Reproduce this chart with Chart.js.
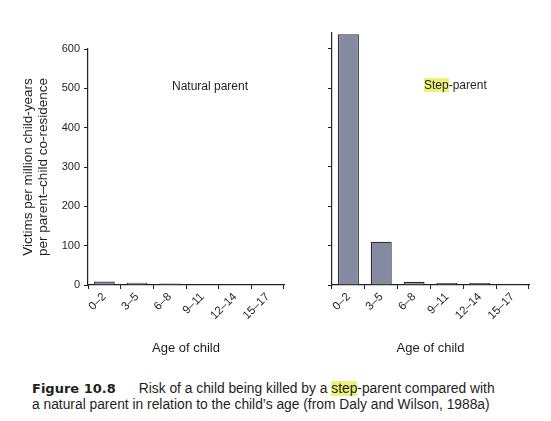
<!DOCTYPE html>
<html>
<head>
<meta charset="utf-8">
<script src="https://cdn.jsdelivr.net/npm/chart.js@4.4.1/dist/chart.umd.min.js"></script>
<style>
  html, body { margin: 0; padding: 0; background: #fff; }
  body { width: 551px; height: 421px; position: relative; overflow: hidden;
         font-family: "Liberation Sans", Arial, sans-serif; color: #1e1e1e; }
  .box { position: absolute; top: 0; height: 365px; }
  #leftBox { left: 0; width: 300px; }
  #rightBox { left: 300px; width: 251px; }
  .panel { position: absolute; font-size: 12px; white-space: nowrap; }
  .hl { background: #eef078; }
  #caption { position: absolute; left: 32px; top: 381px; font-size: 13.8px; line-height: 16px; white-space: nowrap; }
  #caption b { font-family: "DejaVu Sans", sans-serif; font-weight: bold; font-size: 13px; margin-right: 23px; }
</style>
</head>
<body>
<div class="box" id="leftBox"><canvas id="naturalChart"></canvas></div>
<div class="box" id="rightBox"><canvas id="stepChart"></canvas></div>
<div class="panel" style="left:172px; top:79px;">Natural parent</div>
<div class="panel" style="left:424px; top:78px;"><span class="hl">Step</span>-parent</div>
<div id="caption"><b>Figure 10.8</b>Risk of a child being killed by a <span class="hl">step</span>-parent compared with<br>a natural parent in relation to the child’s age (from Daly and Wilson, 1988a)</div>

<script>
// Age groups and rates (victims per million child-years of co-residence)
const ageGroups = ['0–2', '3–5', '6–8', '9–11', '12–14', '15–17'];
const naturalParent = [9, 6, 3.5, 0.6, 0.5, 0.4];
const stepParent = [637, 110, 8, 5, 5, 3];
const yTicks = [0, 100, 200, 300, 400, 500, 600];

const textColor = '#1e1e1e';
const barFill = '#858aa1';
const barEdge = '#2b2d40';
const fontFamily = '"Liberation Sans", Arial';

function makeConfig(values, yMax, showLabels, yWidth, rightPad, topPad) {
    return {
        type: 'bar',
        data: {
            labels: ageGroups,
            datasets: [{
                data: values,
                backgroundColor: barFill,
                borderColor: barEdge,
                borderWidth: 1.3,
                borderSkipped: 'bottom',
                categoryPercentage: 1,
                barPercentage: 0.64
            }]
        },
        options: {
            responsive: false,
            animation: false,
            layout: { padding: { left: 0, top: topPad, right: rightPad, bottom: 0 } },
            plugins: { legend: { display: false }, tooltip: { enabled: false } },
            scales: {
                x: {
                    grid: { display: true, drawOnChartArea: false, tickLength: 4, color: '#222', lineWidth: 1 },
                    border: { display: true, color: '#222', width: 1.2 },
                    ticks: { color: textColor, font: { size: 11.5, family: fontFamily }, minRotation: 45, maxRotation: 45, padding: 1 },
                    title: { display: true, text: 'Age of child', color: textColor, font: { size: 13, family: fontFamily }, padding: { top: 0, bottom: 9 } },
                    afterFit: s => { s.height = 80; }
                },
                y: {
                    min: 0,
                    max: yMax,
                    grid: { display: true, drawOnChartArea: false, tickLength: 4, color: '#222', lineWidth: 1 },
                    border: { display: true, color: '#222', width: 1.2 },
                    afterBuildTicks: s => { s.ticks = yTicks.map(v => ({ value: v })); },
                    ticks: {
                        display: showLabels,
                        color: textColor,
                        padding: 4,
                        font: { size: 11, family: fontFamily }
                    },
                    title: {
                        display: showLabels,
                        text: ['Victims per million child-years', 'per parent–child co-residence'],
                        color: textColor,
                        font: { size: 13.5, family: fontFamily, lineHeight: 1.08 },
                        padding: { top: 21, bottom: 0 }
                    },
                    afterFit: s => { s.width = yWidth; }
                }
            }
        }
    };
}

window.onload = () => {
    const left = document.getElementById('naturalChart');
    left.width = 300; left.height = 365;
    new Chart(left.getContext('2d'), makeConfig(naturalParent, 600, true, 88, 16, 49));

    const right = document.getElementById('stepChart');
    right.width = 251; right.height = 365;
    // same vertical scale as the left panel, axis runs a little above 600
    new Chart(right.getContext('2d'), makeConfig(stepParent, 640, false, 32, 22, 33));
};
</script>
</body>
</html>
